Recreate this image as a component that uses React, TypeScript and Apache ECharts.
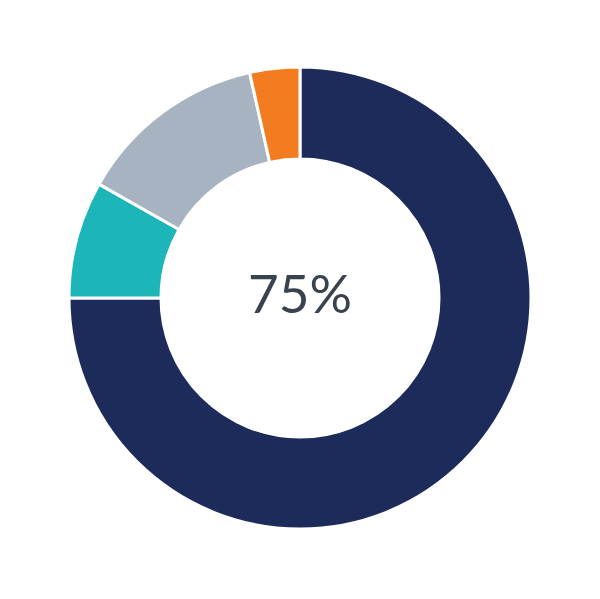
import { useEffect, useRef } from "react";
import * as echarts from "echarts";

const labels = ["Primary", "Teal", "Gray", "Orange"];
const values = [75, 8.2, 13.3, 3.5];
const colors = ["#1c2b5a", "#1cb5b8", "#a8b3c1", "#f47c20"];
const centerText = "75%";

export default function App() {
  const chartRef = useRef<HTMLDivElement>(null);

  useEffect(() => {
    if (!chartRef.current) return;
    const chart = echarts.init(chartRef.current, null, { renderer: "svg" });

    const option = {
      animation: false,
      backgroundColor: "#ffffff",
      graphic: [
        {
          type: "text",
          left: "center",
          top: 266,
          style: {
            text: centerText,
            fontSize: 53,
            fontFamily: "Lato",
            fill: "#3a424d",
          },
        },
      ],
      series: [
        {
          type: "pie",
          center: [300, 298],
          radius: [139, 231],
          startAngle: 90,
          clockwise: true,
          label: { show: false },
          labelLine: { show: false },
          itemStyle: { borderColor: "#ffffff", borderWidth: 3 },
          emphasis: { disabled: true },
          data: labels.map((name, i) => ({
            name,
            value: values[i],
            itemStyle: { color: colors[i] },
          })),
        },
      ],
    };

    chart.setOption(option);
    return () => chart.dispose();
  }, []);

  return (
    <div
      ref={chartRef}
      style={{ position: "fixed", left: 0, top: 0, width: 600, height: 599 }}
    />
  );
}
